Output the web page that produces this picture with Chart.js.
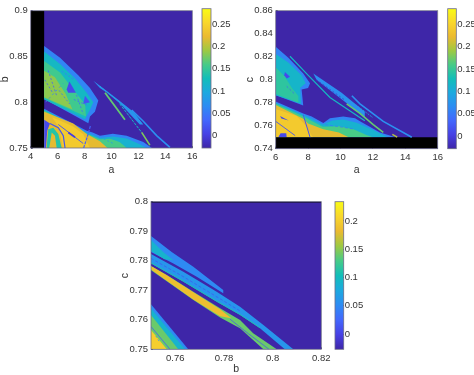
<!DOCTYPE html>
<html>
<head>
<meta charset="utf-8">
<script src="https://cdn.jsdelivr.net/npm/chart.js@4"></script>
<style>
    html, body { margin: 0; padding: 0; background: #fff; }
    #wrap { position: relative; width: 474px; height: 375px; overflow: hidden; }
    canvas { position: absolute; left: 0; top: 0; filter: blur(0.4px); }
</style>
</head>
<body>
<div id="wrap">
    <canvas id="panel1"></canvas><canvas id="bar1"></canvas>
    <canvas id="panel2"></canvas><canvas id="bar2"></canvas>
    <canvas id="panel3"></canvas><canvas id="bar3"></canvas>
</div>
<script>
// ticks
const p1XTicks = [4, 6, 8, 10, 12, 14, 16];
const p1YTicks = [0.75, 0.8, 0.85, 0.9];
const p2XTicks = [6, 8, 10, 12, 14, 16];
const p2YTicks = [0.74, 0.76, 0.78, 0.8, 0.82, 0.84, 0.86];
const p3XTicks = [0.76, 0.78, 0.8, 0.82];
const p3YTicks = [0.75, 0.76, 0.77, 0.78, 0.79, 0.8];
const bar1Ticks = [0, 0.05, 0.1, 0.15, 0.2, 0.25];
const bar2Ticks = [0, 0.05, 0.1, 0.15, 0.2, 0.25];
const bar3Ticks = [0, 0.05, 0.1, 0.15, 0.2];
const bar1Range = [-0.028, 0.285];
const bar2Range = [-0.028, 0.285];
const bar3Range = [-0.027, 0.234];

// parula
const parula = ['#3e26a8', '#4741e5', '#4367fd', '#2d8cf3', '#1ca9df', '#12beb9', '#47cb87', '#9ec942', '#ebba30', '#f9d72d', '#f9fb15'];

// panel 1: a / b, regions painted in order, null = no data (black)
const p1Regions = [
    [[4, 0.75], [16, 0.75], [16, 0.9], [4, 0.9]],
    [[4, 0.75], [5, 0.75], [5, 0.9], [4, 0.9]],
    [[5, 0.8615], [6.18, 0.8486], [7.53, 0.8295], [8.4, 0.8156], [9.02, 0.8018], [8.77, 0.7896], [8.4, 0.7844], [8.28, 0.7771], [5, 0.8034]],
    [[5, 0.8555], [6.18, 0.8417], [7.29, 0.826], [8.16, 0.8104], [8.65, 0.8], [8.4, 0.7917], [8.03, 0.7813], [5, 0.803]],
    [[5, 0.845], [6.18, 0.8325], [7.05, 0.816], [8.05, 0.7975], [8.1, 0.7844], [5, 0.8045]],
    [[5, 0.8345], [5.8, 0.8273], [6.6, 0.809], [7.1, 0.792], [5, 0.8055]],
    [[6.87, 0.8226], [7.36, 0.8104], [6.79, 0.8104], [6.67, 0.8139]],
    [[8.03, 0.807], [8.4, 0.8], [7.9, 0.7982]],
    [[5, 0.793], [8.16, 0.7688], [8.6, 0.7668], [9.14, 0.7635], [10.1, 0.7656], [11.13, 0.7635], [12.36, 0.7566], [13, 0.75], [5, 0.75]],
    [[5, 0.792], [8.16, 0.767], [9.14, 0.761], [10.1, 0.7625], [11.13, 0.7605], [12.1, 0.754], [12.6, 0.75], [5, 0.75]],
    [[5, 0.791], [8.16, 0.7655], [9.14, 0.7595], [9.9, 0.76], [10.6, 0.7565], [11.13, 0.75], [5, 0.75]],
    [[5, 0.7896], [7.16, 0.7768], [8.16, 0.7653], [9.14, 0.7575], [9.7, 0.75], [5, 0.75]],
    [[5.6, 0.7835], [7.16, 0.7735], [7.9, 0.765], [8.4, 0.75], [6.4, 0.75], [6.1, 0.7725]],
    [[5, 0.7809], [5.43, 0.7768], [5.23, 0.7688], [5.13, 0.75], [5, 0.75]],
    [[5.3, 0.7705], [5.68, 0.7722], [6.05, 0.7653], [6.3, 0.75], [5.18, 0.75]],
    [[5.56, 0.767], [5.8, 0.7635], [5.93, 0.75], [5.38, 0.75]],
    [[8.65, 0.8236], [9.14, 0.818], [10.38, 0.8042], [11.62, 0.7896], [12.36, 0.7757], [12.1, 0.7757], [10.63, 0.7985], [9.64, 0.8105], [9.14, 0.8155]]
];
const p1Values = [-0.028, null, 0.06, 0.12, 0.155, 0.185, 0.01, 0.02, 0.06, 0.11, 0.16, 0.22, 0.24, 0.01, 0.14, 0.22, 0.07];
const p1Lines = [
    [[7.93, 0.75], [8.2, 0.762], [8.45, 0.775]],
    [[5.43, 0.7768], [6.05, 0.7722], [6.42, 0.7635], [6.55, 0.75]],
    [[6.05, 0.7757], [7.9, 0.7549]],
    [[6.79, 0.767], [7.29, 0.7618]],
    [[5.3, 0.8347], [5.93, 0.807]],
    [[5.05, 0.8245], [5.6, 0.811]],
    [[6.1, 0.813], [6.9, 0.798]],
    [[7.4, 0.808], [7.9, 0.787]],
    [[6.3, 0.834], [7.2, 0.825]],
    [[9.15, 0.7618], [10.14, 0.7549]],
    [[9.52, 0.8104], [11, 0.7809]],
    [[9.14, 0.8174], [10.38, 0.8028], [11.62, 0.7878], [12.24, 0.776]],
    [[10.6, 0.7985], [12.24, 0.767]],
    [[12.24, 0.767], [12.85, 0.7531]],
    [[11.5, 0.7914], [12.36, 0.7792], [13.35, 0.7635], [14.34, 0.7507]],
    [[5.1, 0.8], [6.4, 0.8205]],
    [[7.2, 0.803], [8.3, 0.796]]
];
const p1LineValues = [0.03, 0.02, 0.02, 0, 0.03, 0.03, 0.05, 0.04, 0.05, 0.08, 0.17, 0.1, 0.12, 0.18, 0.07, 0.06, 0.04];

// panel 2: a / c
const p2Regions = [
    [[6, 0.74], [16, 0.74], [16, 0.86], [6, 0.86]],
    [[6, 0.8287], [6.78, 0.8191], [7.7, 0.8053], [8.12, 0.797], [8, 0.7928], [7.6, 0.7914], [7.7, 0.7776], [6, 0.7865]],
    [[6, 0.8224], [6.78, 0.815], [7.6, 0.8038], [7.85, 0.797], [7.5, 0.7928], [7.56, 0.779], [6, 0.7865]],
    [[6, 0.8108], [6.57, 0.8025], [7, 0.7928], [7.4, 0.7859], [7.4, 0.78], [6, 0.7875]],
    [[6.57, 0.8067], [6.88, 0.8025], [6.68, 0.8011], [6.53, 0.8039]],
    [[8.32, 0.8053], [10.07, 0.7887], [11.5, 0.7721], [11.5, 0.7671], [10.07, 0.7831], [8.53, 0.7997]],
    [[6, 0.781], [7.7, 0.7707], [8.22, 0.768], [8.94, 0.7624], [9.35, 0.7665], [10.17, 0.7679], [10.9, 0.7665], [11.2, 0.7638], [12.44, 0.7541], [13.4, 0.75], [6, 0.75]],
    [[6, 0.78], [7.7, 0.7695], [8.9, 0.761], [9.5, 0.7645], [10.17, 0.7655], [11, 0.7625], [12, 0.7565], [12.9, 0.75], [6, 0.75]],
    [[6, 0.779], [7.7, 0.768], [8.9, 0.759], [9.9, 0.7595], [10.8, 0.757], [11.6, 0.752], [12, 0.75], [6, 0.75]],
    [[6, 0.778], [7.7, 0.766], [8, 0.762], [8.94, 0.757], [9.9, 0.754], [10.5, 0.75], [6, 0.75]],
    [[6, 0.7745], [7.3, 0.7685], [7.8, 0.761], [8.3, 0.75], [6, 0.75]],
    [[6.27, 0.7685], [6.8, 0.7645], [6.35, 0.7662]],
    [[6.16, 0.75], [6.3, 0.7535], [6.65, 0.7535], [6.68, 0.75]],
    [[6, 0.74], [16, 0.74], [16, 0.75], [6, 0.75]]
];
const p2Values = [-0.028, 0.06, 0.115, 0.145, 0.01, 0.07, 0.06, 0.11, 0.16, 0.22, 0.24, 0.01, 0.01, null];
const p2Lines = [
    [[6.88, 0.8204], [8.01, 0.8038], [9.35, 0.7845], [11.1, 0.7679], [11.5, 0.7644]],
    [[10.38, 0.779], [11.2, 0.7707], [12.02, 0.761], [12.64, 0.7541]],
    [[9.97, 0.786], [11, 0.7776], [12, 0.767]],
    [[7.7, 0.7693], [8.12, 0.75]],
    [[6, 0.7638], [7.2, 0.7514]],
    [[8.5, 0.8], [10.3, 0.782]],
    [[6.68, 0.7942], [7.19, 0.7873]],
    [[9.05, 0.761], [10.9, 0.757]],
    [[10.7, 0.786], [11.2, 0.779], [12.64, 0.7638], [14.4, 0.75]],
    [[13.2, 0.7525], [13.5, 0.75]]
];
const p2LineValues = [0.12, 0.17, 0.1, 0.02, 0.02, -0.01, 0.03, 0.05, 0.07, 0.2];

// panel 3: b / c
const p3Regions = [
    [[0.75, 0.75], [0.82, 0.75], [0.82, 0.8], [0.75, 0.8]],
    [[0.75, 0.7884], [0.7585, 0.783], [0.7674, 0.778], [0.7797, 0.7701], [0.7797, 0.769], [0.7688, 0.7746], [0.7592, 0.7791], [0.75, 0.783]],
    [[0.75, 0.787], [0.755, 0.783], [0.7592, 0.7802], [0.7555, 0.7805], [0.75, 0.7833]],
    [[0.75, 0.7823], [0.7633, 0.7763], [0.777, 0.7695], [0.7866, 0.7644], [0.7962, 0.7582], [0.8085, 0.75], [0.805, 0.75], [0.7948, 0.7571], [0.7866, 0.7616], [0.777, 0.7661], [0.7633, 0.7729], [0.75, 0.7791]],
    [[0.75, 0.7782], [0.7565, 0.7752], [0.7674, 0.7695], [0.7784, 0.7639], [0.7866, 0.7599], [0.792, 0.7554], [0.8017, 0.75], [0.7962, 0.75], [0.7866, 0.7571], [0.7784, 0.7608], [0.7674, 0.7667], [0.7578, 0.7723], [0.75, 0.7768]],
    [[0.75, 0.7782], [0.7565, 0.7751], [0.7674, 0.7693], [0.7784, 0.7636], [0.783, 0.7605], [0.7784, 0.7612], [0.7674, 0.7669], [0.7578, 0.7725], [0.75, 0.777]],
    [[0.75, 0.7653], [0.7653, 0.75], [0.75, 0.75]],
    [[0.75, 0.7638], [0.764, 0.75], [0.75, 0.75]],
    [[0.75, 0.7616], [0.7612, 0.75], [0.75, 0.75]],
    [[0.75, 0.7565], [0.7565, 0.75], [0.75, 0.75]]
];
const p3Values = [-0.027, 0.05, 0.09, 0.06, 0.14, 0.185, 0.05, 0.09, 0.14, 0.2];
const p3Lines = [
    [[0.75, 0.8], [0.82, 0.8]],
    [[0.75, 0.7577], [0.7578, 0.75]],
    [[0.75, 0.7793], [0.7633, 0.7731], [0.777, 0.7663], [0.7866, 0.7618], [0.7948, 0.7573]],
    [[0.75, 0.7808], [0.7633, 0.7746], [0.777, 0.7678], [0.7866, 0.763]],
    [[0.7825, 0.7602], [0.79, 0.7553], [0.7985, 0.75]],
    [[0.752, 0.7545], [0.7535, 0.7525]]
];
const p3LineValues = [null, 0.02, 0.11, 0.01, 0.01, 0.05];

// line looks per panel: [width, dash]
const p1LineStyle = [[1.2, [3, 1]], [1.2, []], [0.9, []], [1.8, []], [0.8, [2, 2]], [0.8, [2, 2]], [0.8, [2, 2]], [0.8, [2, 2]], [0.8, [2, 2]], [0.8, [2, 2]], [1.8, []], [0.9, [2, 1]], [1, [3, 1]], [1.6, []], [1.6, []], [0.8, [2, 3]], [0.8, [2, 2]]];
const p2LineStyle = [[1.2, []], [1.6, []], [0.8, [2, 1]], [1, []], [0.9, []], [0.8, [2, 2]], [0.8, [2, 2]], [0.7, [3, 2]], [1.6, []], [1.4, []]];
const p3LineStyle = [[1.5, []], [0.8, []], [1, []], [0.7, [3, 2]], [0.7, []], [0.7, [2, 2]]];

const axisFont = { family: '"Liberation Sans", Arial, sans-serif', size: 9.5 };
const textColor = '#333333';

function hex(c) {
    return [parseInt(c.slice(1, 3), 16), parseInt(c.slice(3, 5), 16), parseInt(c.slice(5, 7), 16)];
}

// value -> colour on the colorbar range
function colorOf(v, range) {
    if (v === null) return '#000000';
    let t = (v - range[0]) / (range[1] - range[0]);
    t = Math.max(0, Math.min(1, t)) * (parula.length - 1);
    const i = Math.min(Math.floor(t), parula.length - 2);
    const a = hex(parula[i]), b = hex(parula[i + 1]);
    const f = t - i;
    return 'rgb(' + [0, 1, 2].map(k => Math.round(a[k] + (b[k] - a[k]) * f)).join(',') + ')';
}

function toPoints(list) {
    return list.map(p => ({ x: p[0], y: p[1] }));
}

const frame = {
    id: 'frame',
    afterDraw(chart) {
        const a = chart.chartArea;
        const ctx = chart.ctx;
        ctx.save();
        ctx.strokeStyle = '#6c6c88';
        ctx.lineWidth = 0.8;
        ctx.strokeRect(a.left, a.top, a.right - a.left, a.bottom - a.top);
        ctx.restore();
    }
};

function axis(ticks, min, max, title, pos, size) {
    return {
        type: 'linear',
        position: pos,
        min: min,
        max: max,
        afterBuildTicks: s => { s.ticks = ticks.map(v => ({ value: v })); },
        afterFit: s => {
            if (pos === 'left' || pos === 'right') s.width = size;
            else s.height = size;
        },
        ticks: {
            font: axisFont,
            color: textColor,
            padding: 5,
            maxRotation: 0,
            autoSkip: false,
            callback: v => String(v)
        },
        grid: { drawOnChartArea: false, drawTicks: true, tickLength: -2, tickColor: '#444466', color: '#444466' },
        border: { display: false },
        title: {
            display: title !== '',
            text: title,
            font: { family: axisFont.family, size: 10.5, lineHeight: 1 },
            color: textColor,
            padding: 0
        }
    };
}

function makePanel(id, box, xAxis, yAxis, regions, values, lines, lineValues, lineStyle, range) {
    const el = document.getElementById(id);
    el.width = 474;
    el.height = 375;
    const datasets = [];
    regions.forEach((r, i) => {
        datasets.push({
            data: toPoints(r),
            fill: 'shape',
            backgroundColor: colorOf(values[i], range),
            borderWidth: 0,
            pointRadius: 0,
            tension: 0,
            order: 1000 - i
        });
    });
    lines.forEach((l, i) => {
        datasets.push({
            data: toPoints(l),
            fill: false,
            borderColor: colorOf(lineValues[i], range),
            borderWidth: lineStyle[i][0],
            borderDash: lineStyle[i][1],
            pointRadius: 0,
            order: 500 - i
        });
    });
    return new Chart(el, {
        type: 'line',
        data: { datasets: datasets },
        options: {
            responsive: false,
            animation: false,
            events: [],
            layout: {
                autoPadding: false,
                padding: { left: box.titleLeft, top: box.top, right: 474 - box.right, bottom: 375 - box.bottom - box.below }
            },
            plugins: { legend: { display: false }, tooltip: { enabled: false } },
            scales: {
                x: axis(xAxis.ticks, xAxis.min, xAxis.max, xAxis.title, 'bottom', box.below),
                y: axis(yAxis.ticks, yAxis.min, yAxis.max, yAxis.title, 'left', box.left - box.titleLeft)
            }
        },
        plugins: [frame]
    });
}

function makeBar(id, box, ticks, range) {
    const el = document.getElementById(id);
    el.width = 474;
    el.height = 375;
    const y = axis(ticks, range[0], range[1], '', 'right', 474 - box.right);
    y.ticks.padding = 3;
    return new Chart(el, {
        type: 'bar',
        data: {
            labels: [''],
            datasets: [{
                data: [range],
                barPercentage: 1,
                categoryPercentage: 1,
                backgroundColor: c => {
                    const a = c.chart.chartArea;
                    if (!a) return parula[0];
                    const g = c.chart.ctx.createLinearGradient(0, a.bottom, 0, a.top);
                    parula.forEach((col, i) => g.addColorStop(i / (parula.length - 1), col));
                    return g;
                }
            }]
        },
        options: {
            responsive: false,
            animation: false,
            events: [],
            layout: {
                autoPadding: false,
                padding: { left: box.left, top: box.top, right: 0, bottom: 375 - box.bottom }
            },
            plugins: { legend: { display: false }, tooltip: { enabled: false } },
            scales: {
                x: { display: false },
                y: y
            }
        },
        plugins: [frame]
    });
}

makePanel('panel1', { titleLeft: 0, left: 30.7, top: 4, right: 192.3, bottom: 148, below: 27 },
    { ticks: p1XTicks, min: 4, max: 16, title: 'a' },
    { ticks: p1YTicks, min: 0.75, max: 0.9, title: 'b' },
    p1Regions, p1Values, p1Lines, p1LineValues, p1LineStyle, bar1Range);
makeBar('bar1', { left: 202, top: 4, right: 211, bottom: 148 }, bar1Ticks, bar1Range);

makePanel('panel2', { titleLeft: 245, left: 275.7, top: 4, right: 437.7, bottom: 148.7, below: 26.5 },
    { ticks: p2XTicks, min: 6, max: 16, title: 'a' },
    { ticks: p2YTicks, min: 0.74, max: 0.86, title: 'c' },
    p2Regions, p2Values, p2Lines, p2LineValues, p2LineStyle, bar2Range);
makeBar('bar2', { left: 447.7, top: 4, right: 456.3, bottom: 148.7 }, bar2Ticks, bar2Range);

makePanel('panel3', { titleLeft: 120, left: 151, top: 201.7, right: 321.3, bottom: 349.3, below: 25.5 },
    { ticks: p3XTicks, min: 0.75, max: 0.82, title: 'b' },
    { ticks: p3YTicks, min: 0.75, max: 0.8, title: 'c' },
    p3Regions, p3Values, p3Lines, p3LineValues, p3LineStyle, bar3Range);
makeBar('bar3', { left: 335, top: 201.7, right: 343.7, bottom: 349.3 }, bar3Ticks, bar3Range);
</script>
</body>
</html>
